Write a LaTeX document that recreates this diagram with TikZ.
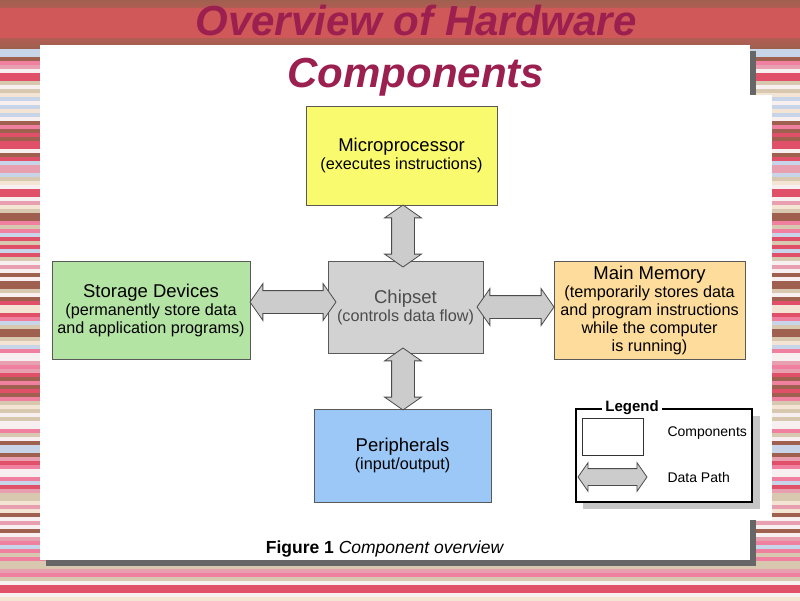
\documentclass[tikz,border=0pt]{standalone}
\usepackage{fontspec}
\setmainfont{Liberation Sans}
\usetikzlibrary{shapes.arrows,shadows}
\definecolor{s1}{HTML}{E8A0B0}\definecolor{s2}{HTML}{F4E4D4}\definecolor{s3}{HTML}{C8D4E8}
\definecolor{s4}{HTML}{E05068}\definecolor{s5}{HTML}{A06050}\definecolor{s6}{HTML}{F8F0F0}
\definecolor{s7}{HTML}{D8C8B0}\definecolor{s8}{HTML}{F080A0}
\definecolor{band}{HTML}{D05858}
\definecolor{titlec}{HTML}{9B2050}
\tikzset{
 comp/.style={draw=gray!70!black, line width=0.6pt, align=center, font=\fontsize{18.5}{18}\selectfont, inner sep=2pt},
 dar/.style={double arrow, draw=black!70, fill=gray!40, line width=0.8pt, double arrow head extend=7pt, double arrow tip angle=110, inner xsep=0pt, inner ysep=11pt},
}
\newcommand\sm[1]{{\fontsize{16.2}{17.5}\selectfont #1}}
\begin{document}
\begin{tikzpicture}[x=1pt,y=-1pt]
\useasboundingbox (0,0) rectangle (800,600);
% stripes
\foreach \y [count=\i] in {45,49,...,600}{
  \pgfmathtruncatemacro{\k}{mod(\i*3+mod(\i,7)*mod(\i,5),8)+1}
  \fill[s\k] (0,\y) rectangle (800,\y+4.2);
}
\fill[top color=s5, bottom color=s5, middle color=band] (0,0) rectangle (800,47);
\fill[band] (0,8) rectangle (800,38);
% panel
\fill[black!60] (46,51) rectangle (756,566);
\fill[white] (40,45) rectangle (750,560);
\fill[white] (47,95) rectangle (772,520);
% title
\node[font=\fontsize{42}{52}\selectfont\bfseries\itshape, text=titlec, align=center] (title) at (416,51) {Overview of Hardware\\Components};
% boxes
\node[comp, fill={rgb,255:red,250;green,250;blue,110}, minimum width=191pt, minimum height=99pt] (mp) at (401.5,155.5) {Microprocessor\\\sm{(executes instructions)}};
\node[comp, fill=gray!35, minimum width=155pt, minimum height=92pt, text=black!70] (cs) at (405.5,307) {Chipset\\\sm{(controls data flow)}};
\node[comp, fill={rgb,255:red,180;green,228;blue,164}, minimum width=198pt, minimum height=98pt] (sd) at (151,310) {Storage Devices\\\sm{(permanently store data}\\\sm{and application programs)}};
\node[comp, fill={rgb,255:red,253;green,220;blue,156}, minimum width=191pt, minimum height=98pt] (mm) at (649.5,310) {Main Memory\\\sm{(temporarily stores data}\\\sm{and program instructions}\\\sm{while the computer}\\\sm{is running)}};
\node[comp, fill={rgb,255:red,156;green,200;blue,248}, minimum width=177pt, minimum height=93pt] (pp) at (402.5,455.5) {Peripherals\\\sm{(input/output)}};
% arrows
\node[dar, minimum height=62pt, rotate=90] (a1) at (403,236) {};
\node[dar, minimum height=62pt, rotate=90] (a2) at (403,379) {};
\node[dar, minimum height=86pt] (a3) at (293,302) {};
\node[dar, minimum height=77pt] (a4) at (515.5,307) {};
% legend
\fill[gray!45] (583,416) rectangle (760,509);
\node[draw=black, line width=1.5pt, fill=white, minimum width=176pt, minimum height=93pt] (leg) at (664,455.5) {};
\node[fill=white, font=\bfseries\fontsize{15}{17}\selectfont, inner sep=3pt] (legt) at (632,408) {Legend};
\node[draw=black!80, line width=0.6pt, fill=white, minimum width=61pt, minimum height=37pt] (lc) at (612.5,436.5) {};
\node[font=\fontsize{14}{16}\selectfont, anchor=west] (lct) at (664,433) {Components};
\node[dar, minimum height=69pt, inner ysep=8pt, double arrow head extend=6pt] (la) at (612.5,477) {};
\node[font=\fontsize{14}{16}\selectfont, anchor=west] (lat) at (664,477) {Data Path};
% caption
\node[font=\fontsize{17.5}{19}\selectfont] (cap) at (385,549) {\textbf{Figure 1} \textit{Component overview}};
\end{tikzpicture}
\end{document}
